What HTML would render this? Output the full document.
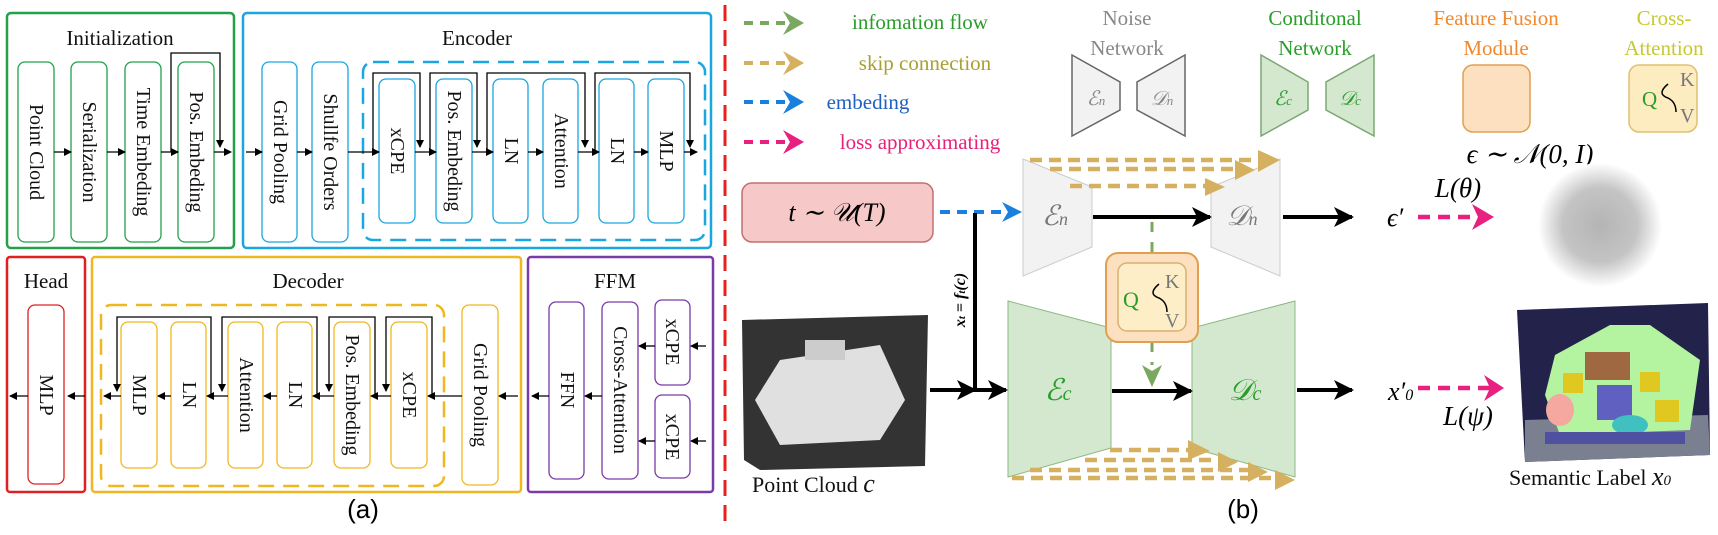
<!DOCTYPE html>
<html><head><meta charset="utf-8"><style>
body{margin:0;background:#fff}
svg text{font-family:"Liberation Serif",serif}
</style></head><body>
<svg width="1718" height="530" viewBox="0 0 1718 530" xmlns="http://www.w3.org/2000/svg">
<defs>
<marker id="a" markerWidth="8" markerHeight="8" refX="7" refY="4" orient="auto" markerUnits="userSpaceOnUse"><path d="M0,0 L8,4 L0,8 z" fill="#000"/></marker>
<marker id="ab" markerWidth="20" markerHeight="20" refX="18" refY="10" orient="auto" markerUnits="userSpaceOnUse"><path d="M0,0 L20,10 L0,20 L5,10 z" fill="#000"/></marker>
<radialGradient id="ns"><stop offset="0" stop-color="#b4b4b4"/><stop offset="0.6" stop-color="#c4c4c4"/><stop offset="1" stop-color="#fff"/></radialGradient>
</defs>
<g fill="none" stroke-width="2.5">
<rect x="7" y="13" width="227" height="235" rx="4" stroke="#22a04a"/>
<rect x="243" y="13" width="468" height="235" rx="4" stroke="#1aa6e0"/>
<rect x="7" y="257" width="78" height="235" rx="3" stroke="#e02020"/>
<rect x="92" y="257" width="429" height="235" rx="3" stroke="#f0b820"/>
<rect x="528" y="257" width="185" height="235" rx="3" stroke="#7a3aa8"/>
<rect x="363" y="62" width="342" height="178" rx="10" stroke="#1aa6e0" stroke-dasharray="16,9"/>
<rect x="101" y="305" width="343" height="181" rx="10" stroke="#f0b820" stroke-dasharray="16,9"/>
</g>
<g font-size="21" text-anchor="middle" fill="#111">
<text x="120" y="45">Initialization</text><text x="477" y="45">Encoder</text>
<text x="46" y="288">Head</text><text x="308" y="288">Decoder</text><text x="615" y="288">FFM</text>
</g>
<g fill="none" stroke-width="1.3">
<g stroke="#22a04a"><rect x="18" y="62" width="36" height="180" rx="7"/><rect x="71" y="62" width="36" height="180" rx="7"/><rect x="125" y="62" width="36" height="180" rx="7"/><rect x="178" y="62" width="36" height="180" rx="7"/></g>
<g stroke="#1aa6e0"><rect x="262" y="62" width="35" height="180" rx="7"/><rect x="312" y="62" width="36" height="180" rx="7"/>
<rect x="379" y="79" width="36" height="144" rx="7"/><rect x="436" y="79" width="36" height="144" rx="7"/><rect x="493" y="79" width="35" height="144" rx="7"/><rect x="543" y="79" width="35" height="144" rx="7"/><rect x="599" y="79" width="35" height="144" rx="7"/><rect x="648" y="79" width="36" height="144" rx="7"/></g>
<g stroke="#e02020"><rect x="28" y="305" width="36" height="179" rx="7"/></g>
<g stroke="#f0b820"><rect x="121" y="322" width="36" height="146" rx="7"/><rect x="171" y="322" width="35" height="146" rx="7"/><rect x="228" y="322" width="35" height="146" rx="7"/><rect x="277" y="322" width="35" height="146" rx="7"/><rect x="334" y="322" width="36" height="146" rx="7"/><rect x="391" y="322" width="36" height="146" rx="7"/><rect x="462" y="305" width="36" height="180" rx="7"/></g>
<g stroke="#7a3aa8"><rect x="549" y="302" width="35" height="177" rx="7"/><rect x="602" y="302" width="36" height="177" rx="7"/><rect x="655" y="300" width="35" height="85" rx="7"/><rect x="655" y="395" width="35" height="83" rx="7"/></g>
</g>
<g font-size="20" text-anchor="middle" dominant-baseline="central" fill="#111">
<text transform="translate(36,152) rotate(90)">Point Cloud</text>
<text transform="translate(89,152) rotate(90)">Serialization</text>
<text transform="translate(143,152) rotate(90)">Time Embeding</text>
<text transform="translate(196,152) rotate(90)">Pos. Embeding</text>
<text transform="translate(280,152) rotate(90)">Grid Pooling</text>
<text transform="translate(330,152) rotate(90)">Shullfe Orders</text>
<text transform="translate(397,151) rotate(90)">xCPE</text>
<text transform="translate(454,151) rotate(90)">Pos. Embeding</text>
<text transform="translate(511,151) rotate(90)">LN</text>
<text transform="translate(561,151) rotate(90)">Attention</text>
<text transform="translate(617,151) rotate(90)">LN</text>
<text transform="translate(666,151) rotate(90)">MLP</text>
<text transform="translate(46,395) rotate(90)">MLP</text>
<text transform="translate(139,395) rotate(90)">MLP</text>
<text transform="translate(189,395) rotate(90)">LN</text>
<text transform="translate(246,395) rotate(90)">Attention</text>
<text transform="translate(295,395) rotate(90)">LN</text>
<text transform="translate(352,395) rotate(90)">Pos. Embeding</text>
<text transform="translate(409,395) rotate(90)">xCPE</text>
<text transform="translate(480,395) rotate(90)">Grid Pooling</text>
<text transform="translate(567,390) rotate(90)">FFN</text>
<text transform="translate(620,390) rotate(90)">Cross-Attention</text>
<text transform="translate(672,342) rotate(90)">xCPE</text>
<text transform="translate(672,437) rotate(90)">xCPE</text>
</g>
<g stroke="#000" stroke-width="1.3" fill="none" marker-end="url(#a)">
<line x1="54" y1="152" x2="71" y2="152"/><line x1="107" y1="152" x2="125" y2="152"/><line x1="161" y1="152" x2="178" y2="152"/><line x1="214" y1="152" x2="231" y2="152"/>
<polyline points="171,152 171,53 220,53 220,147"/>
<line x1="246" y1="152" x2="262" y2="152"/><line x1="297" y1="152" x2="312" y2="152"/><line x1="348" y1="152" x2="379" y2="152"/>
<line x1="415" y1="152" x2="436" y2="152"/><line x1="472" y1="152" x2="493" y2="152"/><line x1="528" y1="152" x2="543" y2="152"/><line x1="578" y1="152" x2="599" y2="152"/><line x1="634" y1="152" x2="648" y2="152"/><line x1="684" y1="152" x2="697" y2="152"/>
<polyline points="373,152 373,73 420,73 420,147"/><polyline points="430,152 430,73 477,73 477,147"/><polyline points="487,152 487,73 585,73 585,147"/><polyline points="595,152 595,73 690,73 690,147"/>
<line x1="85" y1="396" x2="68" y2="396"/><line x1="28" y1="396" x2="10" y2="396"/>
<line x1="121" y1="396" x2="104" y2="396"/><line x1="171" y1="396" x2="158" y2="396"/><line x1="228" y1="396" x2="207" y2="396"/><line x1="277" y1="396" x2="264" y2="396"/><line x1="334" y1="396" x2="313" y2="396"/><line x1="391" y1="396" x2="371" y2="396"/><line x1="462" y1="396" x2="428" y2="396"/><line x1="518" y1="396" x2="499" y2="396"/>
<polyline points="211,396 211,317 117,317 117,391"/><polyline points="317,396 317,317 222,317 222,391"/><polyline points="375,396 375,317 329,317 329,391"/><polyline points="432,396 432,317 386,317 386,391"/>
<line x1="549" y1="396" x2="532" y2="396"/><line x1="602" y1="396" x2="585" y2="396"/><line x1="706" y1="346" x2="691" y2="346"/><line x1="706" y1="441" x2="691" y2="441"/><line x1="655" y1="346" x2="639" y2="346"/><line x1="655" y1="441" x2="639" y2="441"/>
</g>
<text x="363" y="518" font-size="26" text-anchor="middle" style="font-family:'Liberation Sans',sans-serif">(a)</text>
<line x1="725" y1="5" x2="725" y2="530" stroke="#e82020" stroke-width="3" stroke-dasharray="16,9"/>
<g stroke-width="4" stroke-dasharray="9,7">
<line x1="744" y1="23" x2="785" y2="23" stroke="#7aa860"/><line x1="744" y1="63" x2="785" y2="63" stroke="#d4b060"/><line x1="744" y1="102" x2="785" y2="102" stroke="#1a80e0"/><line x1="744" y1="142" x2="785" y2="142" stroke="#e82080"/>
</g>
<path d="M783,11 L804,23 L783,35 L790,23z" fill="#7aa860"/><path d="M783,51 L804,63 L783,75 L790,63z" fill="#d4b060"/><path d="M783,90 L804,102 L783,114 L790,102z" fill="#1a80e0"/><path d="M783,130 L804,142 L783,154 L790,142z" fill="#e82080"/>
<g font-size="21" text-anchor="middle">
<text x="920" y="29" fill="#2a9d2a">infomation flow</text><text x="925" y="70" fill="#a8a030">skip connection</text><text x="868" y="109" fill="#2060c0">embeding</text><text x="920" y="149" fill="#e8207a">loss approximating</text>
<text x="1127" y="25" fill="#888">Noise</text><text x="1127" y="55" fill="#888">Network</text>
<text x="1315" y="25" fill="#2a9d2a">Conditonal</text><text x="1315" y="55" fill="#2a9d2a">Network</text>
<text x="1496" y="25" fill="#f08830">Feature Fusion</text><text x="1496" y="55" fill="#f08830">Module</text>
<text x="1664" y="25" fill="#c8c830">Cross-</text><text x="1664" y="55" fill="#c8c830">Attention</text>
</g>
<g stroke-width="1.5">
<path d="M1072,55 L1120,82 L1120,110 L1072,136z" fill="#f2f2f2" stroke="#666"/><path d="M1185,55 L1137,82 L1137,110 L1185,136z" fill="#f2f2f2" stroke="#666"/>
<path d="M1261,55 L1308,82 L1308,110 L1261,136z" fill="#d4e8d0" stroke="#7aa870"/><path d="M1374,55 L1326,82 L1326,110 L1374,136z" fill="#d4e8d0" stroke="#7aa870"/>
<rect x="1463" y="65" width="67" height="67" rx="10" fill="#fde0c0" stroke="#e0a050"/>
<rect x="1629" y="65" width="68" height="67" rx="10" fill="#fdecc0" stroke="#e0c070"/>
</g>
<g font-size="20" font-style="italic" fill="#888" text-anchor="middle"><text x="1096" y="105">ℰ<tspan font-size="13">n</tspan></text><text x="1162" y="105">𝒟<tspan font-size="13">n</tspan></text></g>
<g font-size="20" font-style="italic" fill="#2a9d2a" text-anchor="middle"><text x="1283" y="105">ℰ<tspan font-size="13">c</tspan></text><text x="1350" y="105">𝒟<tspan font-size="13">c</tspan></text></g>
<text x="1642" y="106" font-size="21" fill="#2a9d2a">Q</text><text x="1680" y="86" font-size="20" fill="#777">K</text><text x="1680" y="122" font-size="20" fill="#777">V</text>
<path d="M1668,84 q-12,10 0,14 q8,4 8,14" fill="none" stroke="#000" stroke-width="1.5"/>
<rect x="742" y="183" width="191" height="59" rx="10" fill="#f6c8c8" stroke="#c07070" stroke-width="1.5"/>
<text x="837" y="221" font-size="26" font-style="italic" text-anchor="middle">t ∼ 𝒰(T)</text>
<line x1="940" y1="212" x2="1005" y2="212" stroke="#1a80e0" stroke-width="4" stroke-dasharray="10,7"/><path d="M1002,202 L1022,212 L1002,222 L1008,212z" fill="#1a80e0"/>
<path d="M1023,159 L1092,187 L1092,247 L1023,276z" fill="#f2f2f2" stroke="#ccc"/>
<path d="M1280,159 L1211,187 L1211,247 L1280,276z" fill="#f2f2f2" stroke="#ccc"/>
<text x="1055" y="225" font-size="28" font-style="italic" fill="#777" text-anchor="middle">ℰ<tspan font-size="18">n</tspan></text>
<text x="1242" y="225" font-size="28" font-style="italic" fill="#777" text-anchor="middle">𝒟<tspan font-size="18">n</tspan></text>
<path d="M1008,301 L1111,328 L1111,448 L1008,477z" fill="#d4e8d0" stroke="#8ab880"/>
<path d="M1295,301 L1192,328 L1192,448 L1295,477z" fill="#d4e8d0" stroke="#8ab880"/>
<text x="1058" y="400" font-size="30" font-style="italic" fill="#2a9d2a" text-anchor="middle">ℰ<tspan font-size="20">c</tspan></text>
<text x="1245" y="400" font-size="30" font-style="italic" fill="#2a9d2a" text-anchor="middle">𝒟<tspan font-size="20">c</tspan></text>
<line x1="1152" y1="222" x2="1152" y2="365" stroke="#7aa860" stroke-width="3" stroke-dasharray="10,10"/><path d="M1142,365 L1152,387 L1162,365 L1152,371z" fill="#7aa860"/>
<rect x="1106" y="253" width="92" height="89" rx="12" fill="#fde0c0" stroke="#e0a050" stroke-width="2"/>
<rect x="1118" y="263" width="68" height="68" rx="9" fill="#fdeec8" stroke="#d8b070" stroke-width="1.5"/>
<text x="1123" y="307" font-size="22" fill="#2a9d2a">Q</text><text x="1165" y="288" font-size="20" fill="#777">K</text><text x="1165" y="327" font-size="20" fill="#777">V</text>
<path d="M1159,284 q-12,10 0,14 q8,4 8,14" fill="none" stroke="#000" stroke-width="1.5"/>
<g stroke="#000" stroke-width="4" fill="none" marker-end="url(#ab)">
<line x1="1093" y1="217" x2="1210" y2="217"/><line x1="1283" y1="217" x2="1352" y2="217"/>
<line x1="1112" y1="391" x2="1191" y2="391"/><line x1="1297" y1="390" x2="1352" y2="390"/>
<polyline points="975,213 975,390 1006,390"/><line x1="930" y1="390" x2="975" y2="390"/>
</g>
<text transform="translate(965,300) rotate(-90)" font-size="16" font-style="italic" font-weight="bold" text-anchor="middle">x<tspan font-size="11">t</tspan> = f<tspan font-size="11">t</tspan>(c)</text>
<g stroke="#d4b060" stroke-width="4.5" stroke-dasharray="12,7">
<line x1="1030" y1="160" x2="1258" y2="160"/><line x1="1050" y1="169" x2="1235" y2="169"/><line x1="1070" y1="186" x2="1205" y2="186"/>
<line x1="1110" y1="450" x2="1195" y2="450"/><line x1="1085" y1="460" x2="1225" y2="460"/><line x1="1030" y1="470" x2="1255" y2="470"/><line x1="1012" y1="478" x2="1275" y2="478"/>
</g>
<g fill="#d4b060"><path d="M1258,150 L1280,160 L1258,172z"/><path d="M1235,160 L1255,170 L1235,180z"/><path d="M1205,178 L1225,187 L1205,196z"/><path d="M1188,440 L1210,451 L1188,460z"/><path d="M1218,452 L1238,462 L1218,472z"/><path d="M1248,462 L1268,472 L1248,482z"/><path d="M1275,470 L1295,480 L1275,490z"/></g>
<text x="1387" y="226" font-size="26" font-style="italic">ϵ′</text>
<line x1="1418" y1="217" x2="1478" y2="217" stroke="#e82080" stroke-width="4.5" stroke-dasharray="12,8"/><path d="M1472,204 L1494,217 L1472,230 L1478,217z" fill="#e82080"/>
<text x="1458" y="197" font-size="27" font-style="italic" text-anchor="middle">L(θ)</text>
<text x="1530" y="163" font-size="27" font-style="italic" text-anchor="middle">ϵ ∼ 𝒩(0, I)</text>
<ellipse cx="1600" cy="225" rx="62" ry="62" fill="url(#ns)"/>
<text x="1388" y="400" font-size="26" font-style="italic">x′<tspan font-size="16">0</tspan></text>
<line x1="1418" y1="388" x2="1490" y2="388" stroke="#e82080" stroke-width="4.5" stroke-dasharray="12,8"/><path d="M1484,375 L1504,388 L1484,401 L1490,388z" fill="#e82080"/>
<text x="1468" y="425" font-size="27" font-style="italic" text-anchor="middle">L(ψ)</text>
<path d="M742,320 L928,315 L925,466 L760,470 L744,460z" fill="#333"/>
<path d="M780,360 L880,345 L905,400 L880,440 L780,445 L755,400z" fill="#e0e0e0"/>
<rect x="805" y="340" width="40" height="20" fill="#ccc"/>
<text x="752" y="492" font-size="22" fill="#111">Point Cloud <tspan font-style="italic" font-size="26">c</tspan></text>
<path d="M1517,310 L1708,303 L1710,455 L1525,462 z" fill="#22224a"/>
<path d="M1525,420 L1708,415 L1710,455 L1525,462z" fill="#7a8090"/>
<path d="M1555,355 L1610,325 L1650,325 L1700,360 L1690,430 L1560,435 L1545,395z" fill="#b4f4a0"/>
<rect x="1585" y="352" width="45" height="28" fill="#a06840"/><rect x="1597" y="385" width="35" height="35" fill="#6060c0"/>
<rect x="1563" y="373" width="20" height="20" fill="#e0c820"/><rect x="1640" y="372" width="20" height="20" fill="#e0c820"/><rect x="1655" y="400" width="24" height="22" fill="#e0c820"/>
<ellipse cx="1560" cy="410" rx="14" ry="16" fill="#f4a8a0"/><ellipse cx="1630" cy="425" rx="18" ry="10" fill="#40c0c0"/><rect x="1545" y="432" width="140" height="12" fill="#5050a0"/>
<text x="1509" y="485" font-size="22" fill="#111">Semantic Label <tspan font-style="italic" font-size="26">x</tspan><tspan font-size="15" font-style="italic">0</tspan></text>
<text x="1243" y="518" font-size="26" text-anchor="middle" style="font-family:'Liberation Sans',sans-serif">(b)</text>
</svg>
</body></html>
